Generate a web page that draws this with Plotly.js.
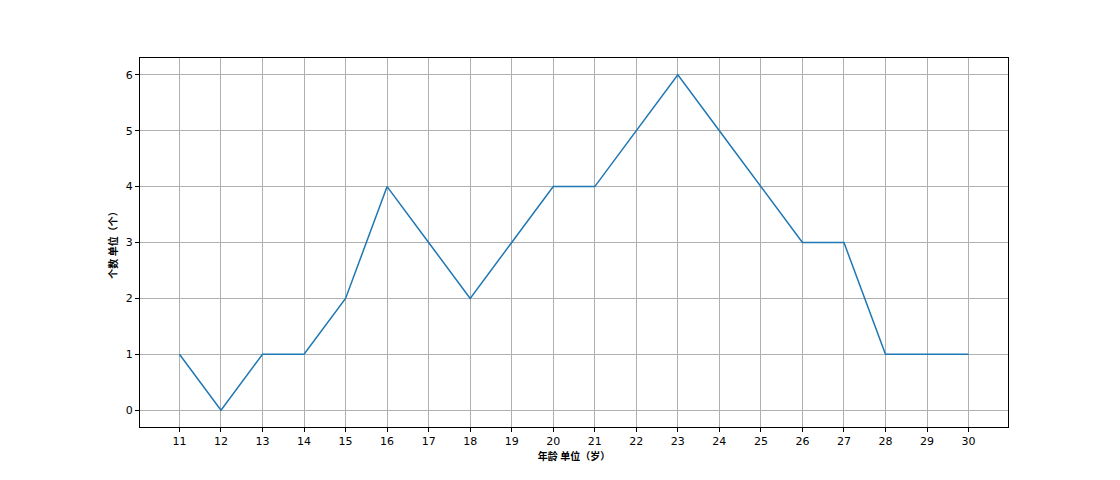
<!DOCTYPE html>
<html><head><meta charset="utf-8">
<script src="https://cdn.plot.ly/plotly-3.0.1.min.js"></script>
<style>body{margin:0;padding:0;background:#fff}</style>
</head><body>
<div id="chart" style="width:1120px;height:480px"></div>
<script>
const ages = [11,12,13,14,15,16,17,18,19,20,21,22,23,24,25,26,27,28,29,30];
const counts = [1,0,1,1,2,4,3,2,3,4,4,5,6,5,4,3,3,1,1,1];
const yTicks = [0,1,2,3,4,5,6];
const xTitle = '年龄 单位（岁）';
const yTitle = '个数 单位（个）';

const axisCommon = {
  showline: true, mirror: true, linecolor: '#000', linewidth: 1,
  ticks: 'outside', ticklen: 4, tickcolor: '#000', tickwidth: 1,
  showgrid: true, gridcolor: '#b0b0b0', gridwidth: 1,
  zeroline: false,
  tickfont: {family: 'DejaVu Sans', size: 11, color: '#000'}
};

Plotly.newPlot('chart', [{
  x: ages, y: counts, type: 'scatter', mode: 'lines',
  line: {color: '#1f77b4', width: 1.5}
}], {
  width: 1120, height: 480,
  margin: {l: 140, r: 112, t: 58, b: 53},
  paper_bgcolor: '#fff', plot_bgcolor: '#fff',
  showlegend: false,
  xaxis: Object.assign({}, axisCommon, {
    range: [10.05, 30.95], tickmode: 'array', tickvals: ages, ticktext: ages.map(String),
    title: {text: '<b>' + xTitle + '</b>', standoff: 3, font: {family: 'Noto Sans CJK SC', size: 10, color: '#000'}}
  }),
  yaxis: Object.assign({}, axisCommon, {
    range: [-0.3, 6.3], tickmode: 'array', tickvals: yTicks, ticktext: yTicks.map(String),
    title: {text: '<b>' + yTitle + '</b>', standoff: 6, font: {family: 'Noto Sans CJK SC', size: 10, color: '#000'}}
  })
}, {displayModeBar: false, staticPlot: true});
</script>
</body></html>
